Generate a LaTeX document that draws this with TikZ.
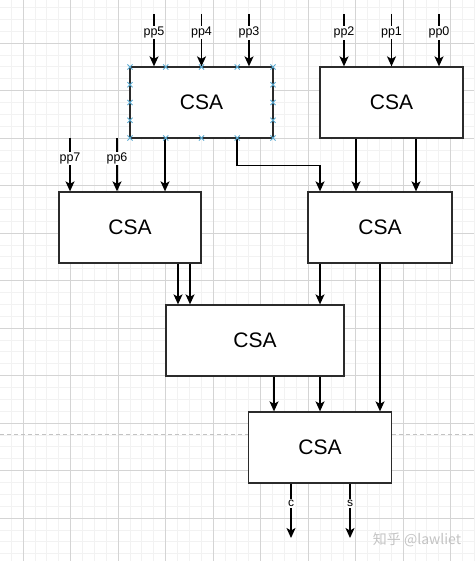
\documentclass[tikz,border=0pt]{standalone}
\usepackage{fontspec}
\setmainfont{Liberation Sans}
\newfontfamily\cjk{Noto Sans CJK SC}
\usetikzlibrary{arrows.meta}
\definecolor{minorgrid}{HTML}{F2F2F2}
\definecolor{majorgrid}{HTML}{D4D4D4}
\definecolor{boxline}{HTML}{2B2B2B}
\definecolor{selblue}{HTML}{5AAAD2}
\definecolor{wmark}{HTML}{C4C4C4}
\tikzset{
  csabox/.style={draw=boxline, line width=1.3pt, fill=white, minimum width=143pt, minimum height=71pt, inner sep=0pt, font=\fontsize{21}{24}\selectfont},
  arr/.style={draw=black, line width=1.3pt, -{Stealth[length=10pt,width=9pt,inset=2.5pt]}},
  lbl/.style={fill=white, inner sep=1pt, font=\fontsize{12.5}{14}\selectfont},
  slbl/.style={fill=white, inner sep=1pt, font=\fontsize{12}{14}\selectfont},
  selmark/.style={draw=selblue, line width=0.9pt},
}
\begin{document}
\begin{tikzpicture}[x=1pt,y=-1pt]
\useasboundingbox (0,0) rectangle (474,561);
\fill[white] (0,0) rectangle (474,561);
% grid
\foreach \i in {-1,...,39} \draw[minorgrid, line width=0.6pt] ({23+11.875*\i},0) -- ++(0,561);
\foreach \i in {1,...,48} \draw[minorgrid, line width=0.6pt] (0,{-4.5+11.875*\i}) -- ++(474,0);
\foreach \i in {0,...,9} \draw[majorgrid, line width=0.7pt] ({23+47.5*\i},0) -- ++(0,561);
\foreach \i in {1,...,12} \draw[majorgrid, line width=0.7pt] (0,{-4.5+47.5*\i}) -- ++(474,0);
\draw[majorgrid!80!gray, line width=0.9pt, dash pattern=on 4pt off 3pt] (0,434) -- (474,434);

% boxes
\node[csabox] (b1) at (201.5,102.5) {CSA};
\node[csabox] (b2) at (391.5,102.5) {CSA};
\node[csabox, minimum width=142pt] (b3) at (130,227.5) {CSA};
\node[csabox, minimum width=144pt] (b4) at (380,227.5) {CSA};
\node[csabox, minimum width=178pt] (b5) at (255,340.5) {CSA};
\node[csabox] (b6) at (320,447.5) {CSA};

% free ends
\coordinate (t5) at (154,14);
\coordinate (t4) at (201.5,14);
\coordinate (t3) at (249,14);
\coordinate (t2) at (344,14);
\coordinate (t1) at (391.5,14);
\coordinate (t0) at (439,14);
\coordinate (t7) at (70,138);
\coordinate (t6) at (117,138);
\coordinate (oc) at (291,538);
\coordinate (os) at (350,538);

% inputs
\draw[arr] (t5) -- ([xshift=-47.5pt]b1.north) node[lbl, pos=0.36] {pp5};
\draw[arr] (t4) -- (b1.north) node[lbl, pos=0.36] {pp4};
\draw[arr] (t3) -- ([xshift=47.5pt]b1.north) node[lbl, pos=0.36] {pp3};
\draw[arr] (t2) -- ([xshift=-47.5pt]b2.north) node[lbl, pos=0.36] {pp2};
\draw[arr] (t1) -- (b2.north) node[lbl, pos=0.36] {pp1};
\draw[arr] (t0) -- ([xshift=47.5pt]b2.north) node[lbl, pos=0.36] {pp0};
\draw[arr] (t7) -- ([xshift=-60pt]b3.north) node[lbl, pos=0.38] {pp7};
\draw[arr] (t6) -- ([xshift=-13pt]b3.north) node[lbl, pos=0.38] {pp6};

% internal connections
\draw[arr] ([xshift=-36.5pt]b1.south) -- ([xshift=35pt]b3.north);
\draw[arr] ([xshift=35.5pt]b1.south) -- ++(0,27) -| ([xshift=-60pt]b4.north);
\draw[arr] ([xshift=-35.5pt]b2.south) -- ([xshift=-24pt]b4.north);
\draw[arr] ([xshift=24.5pt]b2.south) -- ([xshift=36pt]b4.north);
\draw[arr] ([xshift=48pt]b3.south) -- ([xshift=-77pt]b5.north);
\draw[arr] ([xshift=60pt]b3.south) -- ([xshift=-65pt]b5.north);
\draw[arr] ([xshift=-60pt]b4.south) -- ([xshift=65pt]b5.north);
\draw[arr] (b4.south) -- ([xshift=60pt]b6.north);
\draw[arr] ([xshift=19pt]b5.south) -- ([xshift=-46pt]b6.north);
\draw[arr] ([xshift=65pt]b5.south) -- (b6.north);

% outputs
\draw[arr] ([xshift=-29pt]b6.south) -- (oc) node[slbl, pos=0.37] {c};
\draw[arr] ([xshift=30pt]b6.south) -- (os) node[slbl, pos=0.37] {s};

% selection markers on b1
\foreach \px in {130,165.75,201.5,237.25,273} {
  \foreach \py in {67,138} {
    \draw[selmark] (\px-2.6,\py-2.6) -- (\px+2.6,\py+2.6) (\px-2.6,\py+2.6) -- (\px+2.6,\py-2.6);
  }
}
\foreach \px in {130,273} {
  \foreach \py in {84.75,102.5,120.25} {
    \draw[selmark] (\px-2.6,\py-2.6) -- (\px+2.6,\py+2.6) (\px-2.6,\py+2.6) -- (\px+2.6,\py-2.6);
  }
}

% watermark
\node[text=wmark, font=\cjk\fontsize{14}{16}\selectfont, inner sep=0pt] (wm) at (417,540) {知乎 @lawliet};
\end{tikzpicture}
\end{document}
